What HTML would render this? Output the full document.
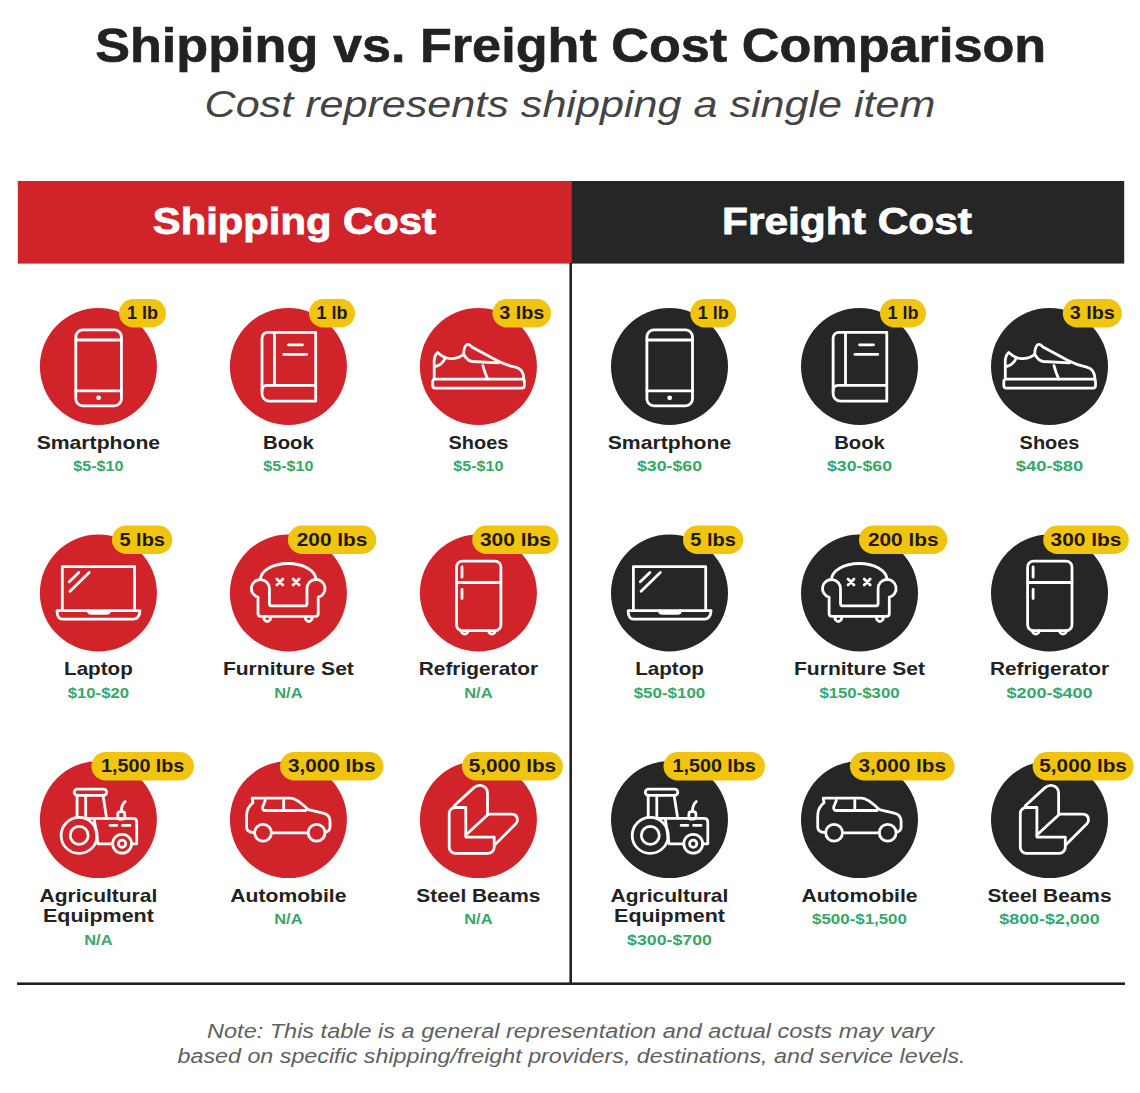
<!DOCTYPE html>
<html><head><meta charset="utf-8"><title>Shipping vs. Freight Cost Comparison</title>
<style>
html,body{margin:0;padding:0;background:#fff;}
body{width:1140px;height:1093px;overflow:hidden;}
svg{display:block;font-family:"Liberation Sans",sans-serif;}
.ic{fill:none;stroke:#fff;stroke-width:2.8;stroke-linecap:round;stroke-linejoin:round;}
.bd{font-size:18.5px;font-weight:bold;fill:#22190e;text-anchor:middle;}
.lb{font-size:18.2px;font-weight:bold;fill:#222222;text-anchor:middle;}
.pr{font-size:15.3px;font-weight:bold;fill:#34a86a;text-anchor:middle;}
</style></head>
<body>
<svg width="1140" height="1093" viewBox="0 0 1140 1093">
<rect width="1140" height="1093" fill="#fff"/>
<text x="570.7" y="61.7" font-size="48" font-weight="bold" fill="#222222" stroke="#222222" stroke-width="0.6" text-anchor="middle" textLength="951" lengthAdjust="spacingAndGlyphs">Shipping vs. Freight Cost Comparison</text>
<text x="570" y="117" font-size="36.3" font-style="italic" fill="#444" text-anchor="middle" textLength="731" lengthAdjust="spacingAndGlyphs">Cost represents shipping a single item</text>
<rect x="17.8" y="181" width="553.4" height="82.6" fill="#d1232a"/>
<rect x="571.2" y="181" width="553" height="82.6" fill="#262626"/>
<text x="294.3" y="233.5" font-size="37.2" font-weight="bold" fill="#fff" stroke="#fff" stroke-width="0.8" text-anchor="middle" textLength="283" lengthAdjust="spacingAndGlyphs">Shipping Cost</text>
<text x="847" y="233.5" font-size="37.2" font-weight="bold" fill="#fff" stroke="#fff" stroke-width="0.8" text-anchor="middle" textLength="250" lengthAdjust="spacingAndGlyphs">Freight Cost</text>
<rect x="569.4" y="263" width="2.6" height="721" fill="#222"/>
<rect x="17" y="982.4" width="1108" height="2.6" fill="#222"/>
<circle cx="98.4" cy="366.5" r="58.5" fill="#d1232a"/><g transform="translate(98.4,366.5)" class="ic"><rect x="-22.6" y="-36.6" width="45.6" height="76" rx="7"/>
<path d="M-22.6,-26.5H23M-22.6,24.4H23"/>
<circle cx="0.2" cy="31.3" r="2.4" fill="#fff" stroke="none"/></g><rect x="119.0" y="299.0" width="47" height="28.4" rx="14.2" fill="#f1c40f"/><text x="142.5" y="319.0" class="bd" textLength="31" lengthAdjust="spacingAndGlyphs">1 lb</text><text x="98.4" y="448.5" class="lb" textLength="123.5" lengthAdjust="spacingAndGlyphs">Smartphone</text><text x="98.4" y="471.3" class="pr" textLength="50.1" lengthAdjust="spacingAndGlyphs">$5-$10</text><circle cx="669.5" cy="366.5" r="58.5" fill="#262626"/><g transform="translate(669.5,366.5)" class="ic"><rect x="-22.6" y="-36.6" width="45.6" height="76" rx="7"/>
<path d="M-22.6,-26.5H23M-22.6,24.4H23"/>
<circle cx="0.2" cy="31.3" r="2.4" fill="#fff" stroke="none"/></g><rect x="690.3" y="299.0" width="46" height="28.4" rx="14.2" fill="#f1c40f"/><text x="713.3" y="319.0" class="bd" textLength="31" lengthAdjust="spacingAndGlyphs">1 lb</text><text x="669.5" y="448.5" class="lb" textLength="123.5" lengthAdjust="spacingAndGlyphs">Smartphone</text><text x="669.5" y="471.3" class="pr" textLength="65" lengthAdjust="spacingAndGlyphs">$30-$60</text><circle cx="288.4" cy="366.5" r="58.5" fill="#d1232a"/><g transform="translate(288.4,366.5)" class="ic"><path d="M27.3,34.7H-19A7.4,7.4 0 0 1 -26.4,27.3V-28.4A5.7,5.7 0 0 1 -20.7,-34.1H27.3Z"/>
<path d="M27.3,18.8H-21.4Q-26.4,18.8 -26.4,24.5M-14,-34.1V18.8M0,-21.7H14M-4.6,-12.1H18.3"/></g><rect x="309.0" y="299.0" width="46" height="28.4" rx="14.2" fill="#f1c40f"/><text x="332.0" y="319.0" class="bd" textLength="31" lengthAdjust="spacingAndGlyphs">1 lb</text><text x="288.4" y="448.5" class="lb" textLength="50.7" lengthAdjust="spacingAndGlyphs">Book</text><text x="288.4" y="471.3" class="pr" textLength="50.1" lengthAdjust="spacingAndGlyphs">$5-$10</text><circle cx="859.5" cy="366.5" r="58.5" fill="#262626"/><g transform="translate(859.5,366.5)" class="ic"><path d="M27.3,34.7H-19A7.4,7.4 0 0 1 -26.4,27.3V-28.4A5.7,5.7 0 0 1 -20.7,-34.1H27.3Z"/>
<path d="M27.3,18.8H-21.4Q-26.4,18.8 -26.4,24.5M-14,-34.1V18.8M0,-21.7H14M-4.6,-12.1H18.3"/></g><rect x="880.0" y="299.0" width="46" height="28.4" rx="14.2" fill="#f1c40f"/><text x="903.0" y="319.0" class="bd" textLength="31" lengthAdjust="spacingAndGlyphs">1 lb</text><text x="859.5" y="448.5" class="lb" textLength="50.7" lengthAdjust="spacingAndGlyphs">Book</text><text x="859.5" y="471.3" class="pr" textLength="65" lengthAdjust="spacingAndGlyphs">$30-$60</text><circle cx="478.4" cy="366.5" r="58.5" fill="#d1232a"/><g transform="translate(478.4,366.5)" class="ic"><rect x="-45.7" y="12.6" width="91.7" height="9" rx="2.6"/>
<path d="M-44.2,12.6V-3Q-44.8,-10 -40.8,-13.9Q-34,-7.4 -26.4,-7.8Q-18.5,-8.5 -14.8,-12.2Q-14.6,-19.5 -11.9,-21.8Q-9.5,-23 -6.5,-19.5L18.5,-6Q28,-1 37.3,0.6Q45.2,2.5 45.5,12.6"/>
<path d="M-14.8,-12.2Q-11,-5.5 -6,-5L20,-3.6"/>
<path d="M-44,0.3Q-36,-1.5 -33.1,-8.8"/>
<path d="M4.5,-0.8Q6.5,7 9.3,12.6"/></g><rect x="492.5" y="299.0" width="58.5" height="28.4" rx="14.2" fill="#f1c40f"/><text x="521.8" y="319.0" class="bd" textLength="45" lengthAdjust="spacingAndGlyphs">3 lbs</text><text x="478.4" y="448.5" class="lb" textLength="59.8" lengthAdjust="spacingAndGlyphs">Shoes</text><text x="478.4" y="471.3" class="pr" textLength="50.1" lengthAdjust="spacingAndGlyphs">$5-$10</text><circle cx="1049.5" cy="366.5" r="58.5" fill="#262626"/><g transform="translate(1049.5,366.5)" class="ic"><rect x="-45.7" y="12.6" width="91.7" height="9" rx="2.6"/>
<path d="M-44.2,12.6V-3Q-44.8,-10 -40.8,-13.9Q-34,-7.4 -26.4,-7.8Q-18.5,-8.5 -14.8,-12.2Q-14.6,-19.5 -11.9,-21.8Q-9.5,-23 -6.5,-19.5L18.5,-6Q28,-1 37.3,0.6Q45.2,2.5 45.5,12.6"/>
<path d="M-14.8,-12.2Q-11,-5.5 -6,-5L20,-3.6"/>
<path d="M-44,0.3Q-36,-1.5 -33.1,-8.8"/>
<path d="M4.5,-0.8Q6.5,7 9.3,12.6"/></g><rect x="1062.8" y="299.0" width="59" height="28.4" rx="14.2" fill="#f1c40f"/><text x="1092.3" y="319.0" class="bd" textLength="45" lengthAdjust="spacingAndGlyphs">3 lbs</text><text x="1049.5" y="448.5" class="lb" textLength="59.8" lengthAdjust="spacingAndGlyphs">Shoes</text><text x="1049.5" y="471.3" class="pr" textLength="67.4" lengthAdjust="spacingAndGlyphs">$40-$80</text><circle cx="98.4" cy="593.0" r="58.5" fill="#d1232a"/><g transform="translate(98.4,593.0)" class="ic"><path d="M-36.1,17.7V-26.3H36.2V17.7"/>
<path d="M-41.4,17.7H41.6Q41,26.2 34.9,26.2H-35.9Q-41.2,26.2 -41.4,17.7Z"/>
<path d="M-10.1,17.7Q-10,20.3 -7,20.3H8Q11,20.3 11.2,17.7"/>
<path d="M-29.2,-11.3L-19.6,-20.5M-28.4,-1.8L-9.2,-20.5"/></g><rect x="112.0" y="525.5" width="60.3" height="28.4" rx="14.2" fill="#f1c40f"/><text x="142.2" y="545.5" class="bd" textLength="45.5" lengthAdjust="spacingAndGlyphs">5 lbs</text><text x="98.4" y="675.0" class="lb" textLength="68.7" lengthAdjust="spacingAndGlyphs">Laptop</text><text x="98.4" y="697.8" class="pr" textLength="61.2" lengthAdjust="spacingAndGlyphs">$10-$20</text><circle cx="669.5" cy="593.0" r="58.5" fill="#262626"/><g transform="translate(669.5,593.0)" class="ic"><path d="M-36.1,17.7V-26.3H36.2V17.7"/>
<path d="M-41.4,17.7H41.6Q41,26.2 34.9,26.2H-35.9Q-41.2,26.2 -41.4,17.7Z"/>
<path d="M-10.1,17.7Q-10,20.3 -7,20.3H8Q11,20.3 11.2,17.7"/>
<path d="M-29.2,-11.3L-19.6,-20.5M-28.4,-1.8L-9.2,-20.5"/></g><rect x="683.0" y="525.5" width="60.3" height="28.4" rx="14.2" fill="#f1c40f"/><text x="713.1" y="545.5" class="bd" textLength="45.5" lengthAdjust="spacingAndGlyphs">5 lbs</text><text x="669.5" y="675.0" class="lb" textLength="68.7" lengthAdjust="spacingAndGlyphs">Laptop</text><text x="669.5" y="697.8" class="pr" textLength="71.6" lengthAdjust="spacingAndGlyphs">$50-$100</text><circle cx="288.4" cy="593.0" r="58.5" fill="#d1232a"/><g transform="translate(288.4,593.0)" class="ic"><path d="M-28,-13.2A27.75,16.3 0 0 1 27.5,-13.2"/>
<path d="M-30.4,20.4V4.2A9,9 0 1 1 -19,-4.5V10.4Q-19,12.9 -16.5,12.9H16.1Q18.6,12.9 18.6,10.4V-4.5A9,9 0 1 1 29.8,4.2V20.4Q29.8,23.4 26.8,23.4H-27.4Q-30.4,23.4 -30.4,20.4Z"/>
<path d="M-23.9,23.4A3.2,3.2 0 1 0 -18.5,23.4M17.7,23.4A3.2,3.2 0 1 0 23.1,23.4"/>
<path d="M-11.5,-13.9L-5.5,-7.9M-5.5,-13.9L-11.5,-7.9M4.7,-13.9L10.7,-7.9M10.7,-13.9L4.7,-7.9"/></g><rect x="287.9" y="525.5" width="88.4" height="28.4" rx="14.2" fill="#f1c40f"/><text x="332.1" y="545.5" class="bd" textLength="70.6" lengthAdjust="spacingAndGlyphs">200 lbs</text><text x="288.4" y="675.0" class="lb" textLength="131" lengthAdjust="spacingAndGlyphs">Furniture Set</text><text x="288.4" y="697.8" class="pr" textLength="28.4" lengthAdjust="spacingAndGlyphs">N/A</text><circle cx="859.5" cy="593.0" r="58.5" fill="#262626"/><g transform="translate(859.5,593.0)" class="ic"><path d="M-28,-13.2A27.75,16.3 0 0 1 27.5,-13.2"/>
<path d="M-30.4,20.4V4.2A9,9 0 1 1 -19,-4.5V10.4Q-19,12.9 -16.5,12.9H16.1Q18.6,12.9 18.6,10.4V-4.5A9,9 0 1 1 29.8,4.2V20.4Q29.8,23.4 26.8,23.4H-27.4Q-30.4,23.4 -30.4,20.4Z"/>
<path d="M-23.9,23.4A3.2,3.2 0 1 0 -18.5,23.4M17.7,23.4A3.2,3.2 0 1 0 23.1,23.4"/>
<path d="M-11.5,-13.9L-5.5,-7.9M-5.5,-13.9L-11.5,-7.9M4.7,-13.9L10.7,-7.9M10.7,-13.9L4.7,-7.9"/></g><rect x="859.0" y="525.5" width="88.4" height="28.4" rx="14.2" fill="#f1c40f"/><text x="903.2" y="545.5" class="bd" textLength="70.6" lengthAdjust="spacingAndGlyphs">200 lbs</text><text x="859.5" y="675.0" class="lb" textLength="131" lengthAdjust="spacingAndGlyphs">Furniture Set</text><text x="859.5" y="697.8" class="pr" textLength="80.2" lengthAdjust="spacingAndGlyphs">$150-$300</text><circle cx="478.4" cy="593.0" r="58.5" fill="#d1232a"/><g transform="translate(478.4,593.0)" class="ic"><rect x="-21.9" y="-31.9" width="44.4" height="69.6" rx="6"/>
<path d="M-21.9,-10.5H22.5M-16.4,-15.8V-26M-16.4,5.6V-3.6"/>
<path d="M-17.1,37.7A3.4,3.4 0 0 0 -10.3,37.7M10.1,37.7A3.4,3.4 0 0 0 16.9,37.7"/></g><rect x="472.2" y="525.5" width="86.3" height="28.4" rx="14.2" fill="#f1c40f"/><text x="515.4" y="545.5" class="bd" textLength="71" lengthAdjust="spacingAndGlyphs">300 lbs</text><text x="478.4" y="675.0" class="lb" textLength="119.2" lengthAdjust="spacingAndGlyphs">Refrigerator</text><text x="478.4" y="697.8" class="pr" textLength="28.4" lengthAdjust="spacingAndGlyphs">N/A</text><circle cx="1049.5" cy="593.0" r="58.5" fill="#262626"/><g transform="translate(1049.5,593.0)" class="ic"><rect x="-21.9" y="-31.9" width="44.4" height="69.6" rx="6"/>
<path d="M-21.9,-10.5H22.5M-16.4,-15.8V-26M-16.4,5.6V-3.6"/>
<path d="M-17.1,37.7A3.4,3.4 0 0 0 -10.3,37.7M10.1,37.7A3.4,3.4 0 0 0 16.9,37.7"/></g><rect x="1043.2" y="525.5" width="85.6" height="28.4" rx="14.2" fill="#f1c40f"/><text x="1086.0" y="545.5" class="bd" textLength="71" lengthAdjust="spacingAndGlyphs">300 lbs</text><text x="1049.5" y="675.0" class="lb" textLength="119.2" lengthAdjust="spacingAndGlyphs">Refrigerator</text><text x="1049.5" y="697.8" class="pr" textLength="86.2" lengthAdjust="spacingAndGlyphs">$200-$400</text><circle cx="98.4" cy="819.6" r="58.5" fill="#d1232a"/><g transform="translate(98.4,819.6)" class="ic"><rect x="-24.2" y="-30.4" width="32.5" height="6.2" rx="3.1"/>
<path d="M-21.3,-24.4V-2.6M-12.7,-24.4V-1.2M4.6,-24.4L8.2,-1.2"/>
<path d="M-12.6,-1.2H34.6Q38.3,-1.2 38.3,2.6V24.2H33.2M14.2,24.2H-0.4L-4.3,-1.2"/>
<rect x="19.4" y="-7.9" width="7" height="7.5" rx="2.5"/>
<path d="M22.9,-7.9Q22.9,-15 26.8,-18"/>
<path d="M11.6,5.8H18.3M24.1,5.8H31.6"/>
<circle cx="-19.3" cy="15.8" r="18"/><circle cx="-19.2" cy="15.8" r="9"/>
<circle cx="23.7" cy="24.15" r="9.4"/><circle cx="23.7" cy="24.15" r="3.6"/></g><rect x="91.4" y="752.1" width="102.6" height="28.4" rx="14.2" fill="#f1c40f"/><text x="142.7" y="772.1" class="bd" textLength="83.2" lengthAdjust="spacingAndGlyphs">1,500 lbs</text><text x="98.4" y="901.6" class="lb" textLength="117.8" lengthAdjust="spacingAndGlyphs">Agricultural</text><text x="98.4" y="921.9" class="lb" textLength="110.8" lengthAdjust="spacingAndGlyphs">Equipment</text><text x="98.4" y="944.7" class="pr" textLength="28.4" lengthAdjust="spacingAndGlyphs">N/A</text><circle cx="669.5" cy="819.6" r="58.5" fill="#262626"/><g transform="translate(669.5,819.6)" class="ic"><rect x="-24.2" y="-30.4" width="32.5" height="6.2" rx="3.1"/>
<path d="M-21.3,-24.4V-2.6M-12.7,-24.4V-1.2M4.6,-24.4L8.2,-1.2"/>
<path d="M-12.6,-1.2H34.6Q38.3,-1.2 38.3,2.6V24.2H33.2M14.2,24.2H-0.4L-4.3,-1.2"/>
<rect x="19.4" y="-7.9" width="7" height="7.5" rx="2.5"/>
<path d="M22.9,-7.9Q22.9,-15 26.8,-18"/>
<path d="M11.6,5.8H18.3M24.1,5.8H31.6"/>
<circle cx="-19.3" cy="15.8" r="18"/><circle cx="-19.2" cy="15.8" r="9"/>
<circle cx="23.7" cy="24.15" r="9.4"/><circle cx="23.7" cy="24.15" r="3.6"/></g><rect x="663.5" y="752.1" width="101.5" height="28.4" rx="14.2" fill="#f1c40f"/><text x="714.2" y="772.1" class="bd" textLength="83.2" lengthAdjust="spacingAndGlyphs">1,500 lbs</text><text x="669.5" y="901.6" class="lb" textLength="117.8" lengthAdjust="spacingAndGlyphs">Agricultural</text><text x="669.5" y="921.9" class="lb" textLength="110.8" lengthAdjust="spacingAndGlyphs">Equipment</text><text x="669.5" y="944.7" class="pr" textLength="84.8" lengthAdjust="spacingAndGlyphs">$300-$700</text><circle cx="288.4" cy="819.6" r="58.5" fill="#d1232a"/><g transform="translate(288.4,819.6)" class="ic"><path d="M-16.6,13.2H19.6M37.2,12.6Q41.6,11.5 41.6,7.5V1Q41.2,-5 34.7,-6.5L19.8,-10Q8,-21.4 2.3,-21.4H-36.3L-35.4,-17Q-41.8,-12 -41.8,-4V7.5Q-41.8,12.8 -34.2,13.1"/>
<path d="M-23.2,-19.2L-25.8,-12.5Q-26.4,-9.1 -22.5,-9.1H17.5"/>
<path d="M-4.7,-19.2V-9.1"/>
<circle cx="-25.4" cy="13.2" r="8.4"/><circle cx="28.2" cy="13.2" r="8.4"/></g><rect x="280.0" y="752.1" width="103.5" height="28.4" rx="14.2" fill="#f1c40f"/><text x="331.8" y="772.1" class="bd" textLength="87.5" lengthAdjust="spacingAndGlyphs">3,000 lbs</text><text x="288.4" y="901.6" class="lb" textLength="116.2" lengthAdjust="spacingAndGlyphs">Automobile</text><text x="288.4" y="924.4" class="pr" textLength="28.4" lengthAdjust="spacingAndGlyphs">N/A</text><circle cx="859.5" cy="819.6" r="58.5" fill="#262626"/><g transform="translate(859.5,819.6)" class="ic"><path d="M-16.6,13.2H19.6M37.2,12.6Q41.6,11.5 41.6,7.5V1Q41.2,-5 34.7,-6.5L19.8,-10Q8,-21.4 2.3,-21.4H-36.3L-35.4,-17Q-41.8,-12 -41.8,-4V7.5Q-41.8,12.8 -34.2,13.1"/>
<path d="M-23.2,-19.2L-25.8,-12.5Q-26.4,-9.1 -22.5,-9.1H17.5"/>
<path d="M-4.7,-19.2V-9.1"/>
<circle cx="-25.4" cy="13.2" r="8.4"/><circle cx="28.2" cy="13.2" r="8.4"/></g><rect x="849.9" y="752.1" width="104.7" height="28.4" rx="14.2" fill="#f1c40f"/><text x="902.2" y="772.1" class="bd" textLength="87.5" lengthAdjust="spacingAndGlyphs">3,000 lbs</text><text x="859.5" y="901.6" class="lb" textLength="116.2" lengthAdjust="spacingAndGlyphs">Automobile</text><text x="859.5" y="924.4" class="pr" textLength="94.8" lengthAdjust="spacingAndGlyphs">$500-$1,500</text><circle cx="478.4" cy="819.6" r="58.5" fill="#d1232a"/><g transform="translate(478.4,819.6)" class="ic"><path d="M-12.6,-12.1H-23.2A6,6 0 0 0 -29.2,-6.1V27.7A6,6 0 0 0 -23.2,33.7H9.8A6,6 0 0 0 15.8,27.7V17.5H-12.6Z"/>
<path d="M-24.2,-13.8L-4.5,-32Q-1.5,-34.5 2,-34.3Q9.1,-33.5 9.1,-26V-5.4H33Q39,-5.4 39,0.5Q39,2.6 37.6,4L16.2,25.5"/>
<path d="M-12.6,15.4L9.9,-5.4"/></g><rect x="461.9" y="752.1" width="101" height="28.4" rx="14.2" fill="#f1c40f"/><text x="512.4" y="772.1" class="bd" textLength="87.5" lengthAdjust="spacingAndGlyphs">5,000 lbs</text><text x="478.4" y="901.6" class="lb" textLength="124.1" lengthAdjust="spacingAndGlyphs">Steel Beams</text><text x="478.4" y="924.4" class="pr" textLength="28.4" lengthAdjust="spacingAndGlyphs">N/A</text><circle cx="1049.5" cy="819.6" r="58.5" fill="#262626"/><g transform="translate(1049.5,819.6)" class="ic"><path d="M-12.6,-12.1H-23.2A6,6 0 0 0 -29.2,-6.1V27.7A6,6 0 0 0 -23.2,33.7H9.8A6,6 0 0 0 15.8,27.7V17.5H-12.6Z"/>
<path d="M-24.2,-13.8L-4.5,-32Q-1.5,-34.5 2,-34.3Q9.1,-33.5 9.1,-26V-5.4H33Q39,-5.4 39,0.5Q39,2.6 37.6,4L16.2,25.5"/>
<path d="M-12.6,15.4L9.9,-5.4"/></g><rect x="1032.6" y="752.1" width="101.1" height="28.4" rx="14.2" fill="#f1c40f"/><text x="1083.1" y="772.1" class="bd" textLength="87.5" lengthAdjust="spacingAndGlyphs">5,000 lbs</text><text x="1049.5" y="901.6" class="lb" textLength="124.1" lengthAdjust="spacingAndGlyphs">Steel Beams</text><text x="1049.5" y="924.4" class="pr" textLength="100.4" lengthAdjust="spacingAndGlyphs">$800-$2,000</text>
<text x="570.6" y="1037.7" font-size="19.5" font-style="italic" fill="#606060" text-anchor="middle" textLength="727" lengthAdjust="spacingAndGlyphs">Note: This table is a general representation and actual costs may vary</text>
<text x="571.5" y="1063.4" font-size="19.5" font-style="italic" fill="#606060" text-anchor="middle" textLength="788" lengthAdjust="spacingAndGlyphs">based on specific shipping/freight providers, destinations, and service levels.</text>
</svg>
</body></html>
